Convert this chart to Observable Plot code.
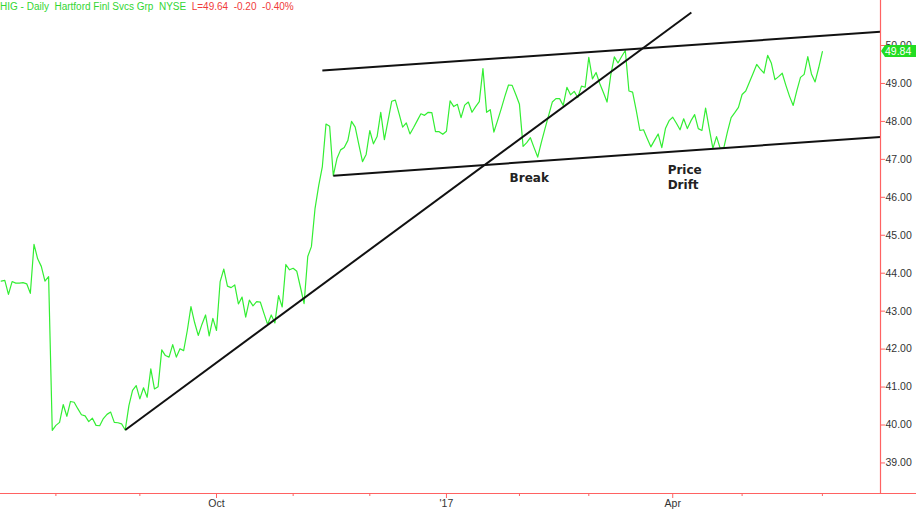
<!DOCTYPE html>
<html>
<head>
<meta charset="utf-8">
<script src="https://cdn.jsdelivr.net/npm/d3@7"></script>
<script src="https://cdn.jsdelivr.net/npm/@observablehq/plot@0.6"></script>
<style>
  html, body { margin: 0; padding: 0; background: #fff; }
  #chart svg { display: block; }
</style>
</head>
<body>
<div id="chart"></div>
<script>
// ---- Data (daily closes, one per trading day, Jul 11 2016 .. Jun 1 2017) ----
const closes = [
  43.79,43.81,43.44,43.78,43.74,43.74,43.75,43.72,43.47,44.76,
  44.38,44.18,43.79,43.91,39.86,39.99,40.07,40.54,40.23,40.62,
  40.60,40.43,40.27,40.24,40.09,40.18,39.99,39.98,40.17,40.28,
  40.34,40.07,40.06,40.03,39.87,40.51,40.91,41.04,40.69,40.98,
  40.73,41.48,40.95,41.01,41.98,41.83,41.79,42.12,41.79,42.01,
  41.96,42.49,43.12,42.70,42.36,42.65,42.90,42.35,42.81,42.49,
  43.78,44.11,43.66,43.62,43.69,43.19,43.37,42.84,43.29,43.14,
  43.25,43.24,42.94,42.65,42.90,42.69,43.41,43.11,44.23,44.09,
  44.13,44.05,43.63,43.20,44.44,44.70,45.71,46.31,46.81,47.93,
  47.87,46.57,47.02,47.25,47.31,47.50,48.00,47.85,47.39,46.94,
  47.13,47.76,47.41,47.60,48.24,47.52,48.02,48.53,48.56,48.21,
  47.85,47.96,47.67,47.84,48.02,48.20,48.16,48.24,48.23,47.73,
  47.73,47.66,47.74,48.54,48.39,48.45,48.10,48.43,48.51,48.24,
  48.39,48.52,49.39,48.24,48.31,47.72,48.02,48.33,48.66,48.96,
  48.95,48.71,48.45,47.34,47.44,47.57,47.31,47.06,47.45,47.81,
  48.16,48.51,48.60,48.60,48.42,48.90,48.70,48.79,48.63,48.93,
  48.90,49.69,49.12,49.29,49.00,48.76,48.51,49.21,49.70,49.54,
  49.71,49.87,48.80,48.77,48.29,47.76,47.78,47.55,47.33,47.50,
  47.67,47.31,47.81,48.02,48.11,47.95,47.78,48.07,47.81,48.02,
  48.18,47.81,47.76,48.35,47.81,47.29,47.60,47.29,47.31,47.73,
  48.10,48.23,48.37,48.71,48.80,49.03,49.26,49.50,49.38,49.27,
  49.74,49.54,49.10,49.18,49.27,48.95,48.66,48.42,48.81,49.16,
  49.24,49.71,49.25,49.04,49.42,49.84
];

// X axis: trading-day index of month starts
const xTickIdx = [59, 122, 184];
const xTickLabels = ["Oct", "'17", "Apr"];
const xMinorIdx = [15, 38, 80, 101, 142, 161, 203, 225];

// Y axis ticks
const yTicks = [39, 40, 41, 42, 43, 44, 45, 46, 47, 48, 49, 50];

// Hand-drawn trend lines (trading-day index, price)
const trendNames    = ["uptrend", "channel top", "channel bottom"];
const trendStartIdx = [34, 88, 91];
const trendStartVal = [39.87, 49.34, 46.57];
const trendEndIdx   = [189.1, 240.9, 240.9];
const trendEndVal   = [50.87, 50.36, 47.59];

// Annotations
const noteLabels = ["Break", "Price\nDrift"];
const noteIdx    = [139.3, 182.6];
const noteVal    = [46.52, 46.535];

// Header
const titleText = "HIG - Daily\u00a0\u00a0Hartford Finl Svcs Grp\u00a0\u00a0NYSE";
const quoteText = "\u00a0\u00a0L=49.64\u00a0\u00a0-0.20\u00a0\u00a0-0.40%";

// ---- Build tables ----
const series = closes.map((v, i) => ({i, v}));
const trends = trendNames.map((name, k) => ({
  name, i1: trendStartIdx[k], v1: trendStartVal[k], i2: trendEndIdx[k], v2: trendEndVal[k]
}));
const notes = noteLabels.map((label, k) => ({label, i: noteIdx[k], v: noteVal[k]}));

const lineGreen = "#33ee33";
const tagGreen = "#22dd22";
const titleGreen = "#33d633";
const titleRed = "#f03a3a";
const axisRed = "#ff6262";
const font = "'Liberation Sans', Arial, sans-serif";

function frameLines(index, scales, values, dims) {
  const g = d3.create("svg:g").attr("stroke", axisRed).attr("stroke-width", 1.2).attr("fill", "none");
  const xr = dims.width - dims.marginRight;
  const yb = dims.height - dims.marginBottom;
  g.append("line").attr("x1", xr + 0.5).attr("x2", xr + 0.5).attr("y1", 0).attr("y2", yb);
  g.append("line").attr("x1", 0).attr("x2", dims.width).attr("y1", yb + 0.5).attr("y2", yb + 0.5);
  return g.node();
}

function priceTag(index, scales, values, dims) {
  const last = closes[closes.length - 1];
  const y = scales.y(last);
  const x0 = dims.width - dims.marginRight;
  const g = d3.create("svg:g");
  g.append("path")
    .attr("d", `M${x0 + 1},${y} L${x0 + 5},${y - 6} H${dims.width} V${y + 6} H${x0 + 5} Z`)
    .attr("fill", tagGreen);
  g.append("text")
    .attr("x", x0 + 5).attr("y", y).attr("dy", "0.35em")
    .attr("text-anchor", "start")
    .attr("fill", "#fff").attr("font-size", 10.5).attr("font-family", font)
    .text(last.toFixed(2));
  return g.node();
}

function titleMark() {
  const t = d3.create("svg:text")
    .attr("x", 0).attr("y", 10)
    .attr("text-anchor", "start")
    .attr("font-size", 10).attr("font-family", font)
    .style("white-space", "pre");
  t.append("tspan").attr("fill", titleGreen).text(titleText);
  t.append("tspan").attr("fill", titleRed).text(quoteText);
  return t.node();
}

const chart = Plot.plot({
  width: 916,
  height: 510,
  marginLeft: 0,
  marginRight: 36,
  marginTop: 0,
  marginBottom: 17,
  style: {fontFamily: font, background: "#fff", overflow: "visible"},
  x: {domain: [-0.18, 240.92], label: null, axis: null},
  y: {domain: [38.195, 51.186], label: null, axis: null},
  marks: [
    Plot.line(series, {x: "i", y: "v", stroke: lineGreen, strokeWidth: 1.2}),
    Plot.link(trends, {x1: "i1", y1: "v1", x2: "i2", y2: "v2", stroke: "#111", strokeWidth: 2}),
    Plot.text(notes, {
      x: "i", y: "v", text: "label", textAnchor: "start", lineHeight: 1.25,
      fontFamily: "'DejaVu Sans', Verdana, sans-serif", fontWeight: "bold", fontSize: 12, fill: "#222"
    }),
    Plot.axisY({
      anchor: "right", ticks: yTicks, tickFormat: d => d.toFixed(2),
      tickSize: 4, tickPadding: 1, stroke: axisRed, fill: "#333", fontSize: 10.5, label: null
    }),
    Plot.axisX({anchor: "bottom", ticks: xMinorIdx, tickSize: 3, stroke: axisRed, fill: "none", label: null}),
    Plot.axisX({
      anchor: "bottom", ticks: xTickIdx, tickFormat: d => xTickLabels[xTickIdx.indexOf(d)],
      tickSize: 5, tickPadding: 1, stroke: axisRed, fill: "#333", fontSize: 10.5, label: null
    }),
    frameLines,
    priceTag,
    titleMark
  ]
});

document.getElementById("chart").appendChild(chart);
</script>
</body>
</html>
